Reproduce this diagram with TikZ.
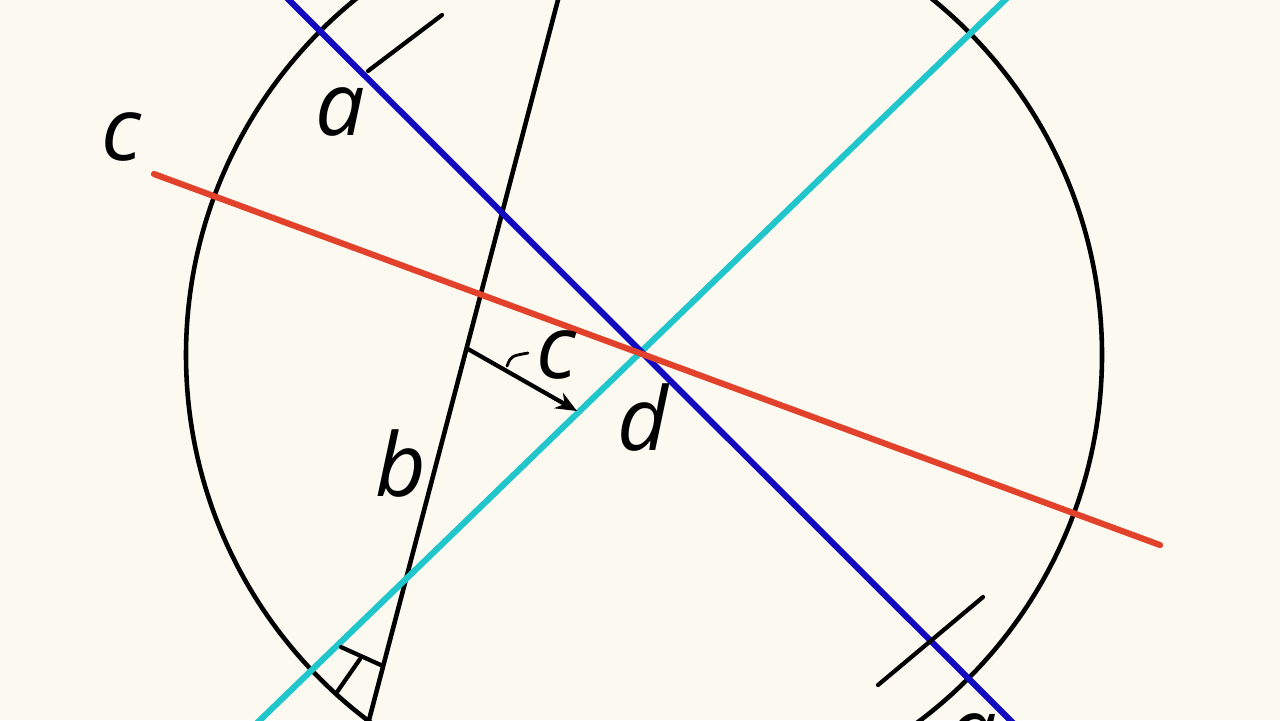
\documentclass[tikz,border=0pt]{standalone}
\usepackage{fontspec}
\setsansfont{Open Sans}
\usepackage{tikz}
\usetikzlibrary{arrows.meta}
\definecolor{mybg}{RGB}{252, 249, 240}
\definecolor{myblue}{RGB}{18, 10, 190}
\definecolor{mycyan}{RGB}{32, 198, 204}
\definecolor{myred}{RGB}{226, 66, 44}

\begin{document}
\begin{tikzpicture}[x = 0.01cm, y = -0.01cm, > = {Stealth[length = 6pt, width = 5pt]}, line cap = round,
  chord/.style = {draw = black, line width = 1.3pt},
  tickline/.style = {draw = black, line width = 1.2pt},
  blueline/.style = {draw = myblue, line width = 1.75pt},
  cyanline/.style = {draw = mycyan, line width = 1.75pt},
  redline/.style = {draw = myred, line width = 1.75pt},
  lbl/.style = {font = \fontsize{25}{25}\sffamily\itshape, inner sep = 0pt}]

  % background
  \fill[mybg] (0, 0) rectangle (1280, 720);
  \useasboundingbox (0, 0) rectangle (1280, 720);
  \clip (0, 0) rectangle (1280, 720);

  % points
  \coordinate (centre) at (644, 355);
  \coordinate (blue-start) at (286, -3);
  \coordinate (blue-end) at (1013, 723);
  \coordinate (cyan-start) at (257, 723);
  \coordinate (cyan-end) at (1008, -3);
  \coordinate (red-start) at (154, 174);
  \coordinate (red-end) at (1160, 545);
  \coordinate (chord-top) at (559, -4);
  \coordinate (chord-foot) at (369, 720);
  \coordinate (arrow-start) at (468, 349);
  \coordinate (arrow-end) at (577, 411);

  % circle
  \draw[chord] (centre) circle [radius = 458];

  % chord and lines
  \draw[chord] (chord-foot) -- (chord-top);
  \draw[cyanline] (cyan-start) -- (cyan-end);
  \draw[blueline] (blue-start) -- (blue-end);
  \draw[redline] (red-start) -- (red-end);

  % tick marks
  \draw[tickline] (368, 71) -- (442, 15);
  \draw[tickline] (878, 685) -- (983, 597);
  \draw[tickline] (341, 647) -- (383, 666);
  \draw[tickline] (337, 692) -- (360, 659);

  % arrow
  \draw[tickline, ->] (arrow-start) -- (arrow-end);
  \draw[tickline, line width = 0.8pt] (507, 366) .. controls (511, 356) .. (528, 353);

  % labels
  \node[lbl] (label-c-left) at (121, 137) {c};
  \node[lbl] (label-a-top) at (340, 112) {a};
  \node[lbl] (label-b) at (401, 464) {b};
  \node[lbl] (label-c-mid) at (556, 355) {c};
  \node[lbl] (label-d) at (643, 418) {d};
  \node[lbl] (label-a-foot) at (972, 738) {a};

\end{tikzpicture}
\end{document}
